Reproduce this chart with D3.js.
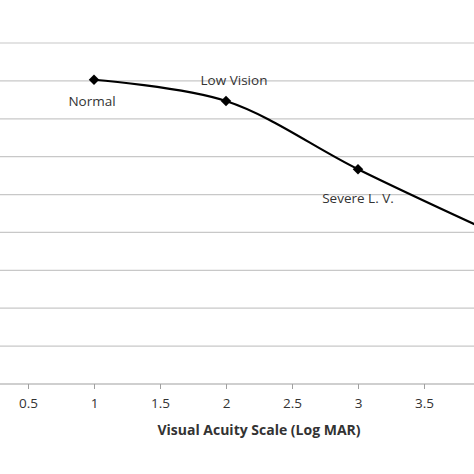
<!DOCTYPE html>
<html>
<head>
<meta charset="utf-8">
<script src="https://cdn.jsdelivr.net/npm/d3@7"></script>
<style>
  body { margin: 0; background: #fff; }
  text { font-family: "Open Sans", "Liberation Sans", Arial, sans-serif; }
</style>
</head>
<body>
<svg id="chart" width="474" height="474"></svg>
<script>
// Data
const xs = [1, 2, 3, 4];
const ys = [8.03, 7.47, 5.67, 4.03];
const pointLabels = ["Normal", "Low Vision", "Severe L. V.", ""];
const xTicks = [0.5, 1, 1.5, 2, 2.5, 3, 3.5];
const yGrid = [1, 2, 3, 4, 5, 6, 7, 8, 9];

const svg = d3.select("#chart");

const x = d3.scaleLinear().domain([0.5, 3.5]).range([28, 424]);
const y = d3.scaleLinear().domain([0, 9]).range([384, 43]);

// gridlines
svg.append("g")
  .selectAll("line")
  .data(yGrid)
  .join("line")
  .attr("x1", 0).attr("x2", 474)
  .attr("y1", (d) => y(d)).attr("y2", (d) => y(d))
  .attr("stroke", "#c8c8c8").attr("stroke-width", 1.2);

// x axis
const xAxis = svg.append("g")
  .attr("transform", `translate(0,${y(0)})`)
  .call(d3.axisBottom(x).tickValues(xTicks).tickSize(5).tickPadding(9)
    .tickFormat((d) => String(d)));
xAxis.select(".domain").remove();
xAxis.selectAll(".tick line").attr("stroke", "#a0a0a0");
xAxis.selectAll(".tick text").attr("font-size", 13.5).attr("fill", "#333");
svg.append("line")
  .attr("x1", 0).attr("x2", 474).attr("y1", y(0)).attr("y2", y(0))
  .attr("stroke", "#a0a0a0").attr("stroke-width", 1.2);

svg.append("text")
  .attr("x", 259).attr("y", 435)
  .attr("text-anchor", "middle")
  .attr("font-size", 14).attr("font-weight", "bold").attr("fill", "#333")
  .text("Visual Acuity Scale (Log MAR)");

const pts = xs.map((d, i) => [d, ys[i]]);

// line
svg.append("path")
  .datum(pts)
  .attr("fill", "none")
  .attr("stroke", "#000")
  .attr("stroke-width", 2.2)
  .attr("d", d3.line().x((d) => x(d[0])).y((d) => y(d[1])).curve(d3.curveCatmullRom.alpha(0.5)));

// markers
svg.append("g")
  .selectAll("path")
  .data(pts.slice(0, 3))
  .join("path")
  .attr("transform", (d) => `translate(${x(d[0])},${y(d[1])})`)
  .attr("d", d3.symbol(d3.symbolDiamond2, 70))
  .attr("fill", "#000");

// labels
const labelDy = [26, -16, 34];
const labelDx = [-2, 8, 0];
svg.append("g")
  .selectAll("text")
  .data(pts.slice(0, 3))
  .join("text")
  .attr("x", (d, i) => x(d[0]) + labelDx[i])
  .attr("y", (d, i) => y(d[1]) + labelDy[i])
  .attr("text-anchor", "middle")
  .attr("font-size", 13.5).attr("fill", "#333")
  .text((d, i) => pointLabels[i]);
</script>
</body>
</html>
